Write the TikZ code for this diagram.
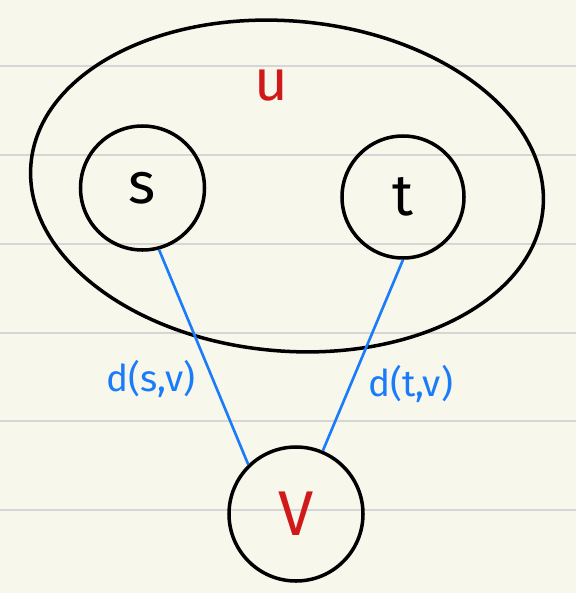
\documentclass[tikz,border=0pt]{standalone}
\usepackage{fontspec}
\setmainfont{Fira Sans}
\definecolor{paper}{HTML}{F7F7EC}
\definecolor{ruling}{HTML}{D6D6D6}
\definecolor{pen}{HTML}{1A7CFA}
\definecolor{ink}{HTML}{D01A1A}
\begin{document}
\begin{tikzpicture}[vertex/.style={circle,draw,line width=2pt,inner sep=0pt},
  dist/.style={pen,line width=1.5pt}]
\fill [paper](0,0) rectangle (11.52,-11.86);
\useasboundingbox (0,0) rectangle (11.52,-11.86);
\foreach \y in {1.32,3.10,4.88,6.66,8.42,10.20}
  \draw [ruling, line width=1.2pt](0,-\y)--(11.52,-\y);
\draw [line width=2pt, rotate around={-5:(5.74,-3.72)}] (5.74,-3.72) ellipse (5.14 and 3.30);
\node (U) at (5.42,-1.72) [ink,font=\fontsize{33}{36}\selectfont] {u};
\node (s) at (2.85,-3.76) [vertex,minimum size=2.48cm,font=\fontsize{33}{36}\selectfont] {s};
\node (t) at (8.06,-3.94) [vertex,minimum size=2.44cm,font=\fontsize{33}{36}\selectfont] {t};
\node (V) at (5.92,-10.28) [vertex,minimum size=2.68cm,ink,text=ink,draw=black,font=\fontsize{36}{40}\selectfont] {V};
\draw [dist](s.-75)--(V.134) node [pos=0.6,left=9pt,inner sep=0pt,font=\fontsize{21}{24}\selectfont]{d(s,v)};
\draw [dist](t.-90)--(V.67) node [pos=0.65,right=9pt,inner sep=0pt,font=\fontsize{21}{24}\selectfont]{d(t,v)};
\end{tikzpicture}
\end{document}
